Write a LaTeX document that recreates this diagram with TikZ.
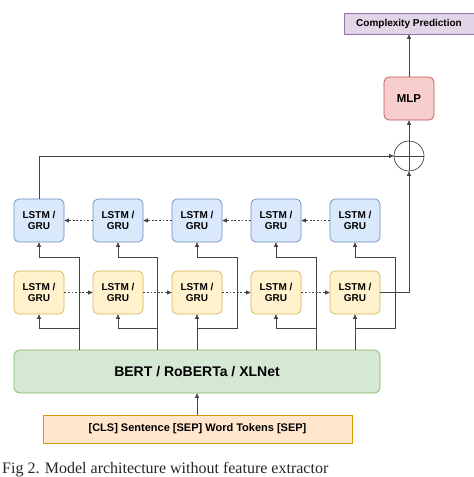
\documentclass[tikz,border=0pt]{standalone}
\usepackage{fontspec}
\setmainfont{Liberation Sans}
\newfontfamily\capfont{Liberation Serif}
\usetikzlibrary{arrows.meta}
\definecolor{bluef}{HTML}{DAE8FC}\definecolor{blued}{HTML}{6C8EBF}
\definecolor{yelf}{HTML}{FFF2CC}\definecolor{yeld}{HTML}{D6B656}
\definecolor{grnf}{HTML}{D5E8D4}\definecolor{grnd}{HTML}{82B366}
\definecolor{redf}{HTML}{F8CECC}\definecolor{redd}{HTML}{B85450}
\definecolor{purf}{HTML}{E1D5E7}\definecolor{purd}{HTML}{9673A6}
\definecolor{orf}{HTML}{FFE6CC}\definecolor{ord}{HTML}{D79B00}
\definecolor{ln}{HTML}{444444}
\begin{document}
\begin{tikzpicture}[x=1pt,y=-1pt,
  cell/.style={draw, rounded corners=5pt, minimum width=50pt, minimum height=43pt, inner sep=0pt, align=center, font=\fontsize{10}{11.5}\selectfont\bfseries, line width=0.7pt},
  bcell/.style={cell, fill=bluef, draw=blued},
  ycell/.style={cell, fill=yelf, draw=yeld},
  arr/.style={draw=ln, line width=0.7pt, -{Triangle[length=4.5pt,width=4pt]}},
  ln/.style={draw=ln, line width=0.7pt},
  darr/.style={arr, dash pattern=on 1.8pt off 1.8pt, line width=0.8pt},
]
\useasboundingbox (0,0) rectangle (474,477);
% boxes
\foreach \i/\x in {1/39,2/118,3/197,4/276,5/355}{
  \node[bcell] (b\i) at (\x,220.5) {LSTM /\\GRU};
  \node[ycell] (y\i) at (\x,292.5) {LSTM /\\GRU};
}
\node[draw=grnd, fill=grnf, rounded corners=6pt, minimum width=366pt, minimum height=43pt, inner sep=0pt, line width=0.7pt, font=\fontsize{14}{16}\selectfont\bfseries] (bert) at (197,371.5) {BERT / RoBERTa / XLNet};
\node[draw=ord, fill=orf, minimum width=309pt, minimum height=28pt, inner sep=0pt, line width=0.7pt, font=\fontsize{11}{13}\selectfont\bfseries] (tok) at (197.5,429) {[CLS] Sentence [SEP] Word Tokens [SEP]};
\node[draw=redd, fill=redf, rounded corners=5pt, minimum width=50pt, minimum height=43pt, inner sep=0pt, line width=0.7pt, font=\fontsize{11.5}{13}\selectfont\bfseries] (mlp) at (409,98.5) {MLP};
\node[draw=purd, fill=purf, minimum width=130pt, minimum height=21pt, inner sep=0pt, line width=0.7pt, font=\fontsize{10}{12}\selectfont\bfseries] (cp) at (409,23.5) {Complexity Prediction};
\node[draw=ln, circle, minimum size=30pt, inner sep=0pt, line width=0.7pt] (plus) at (409,156) {};
\draw[ln] (plus.north) -- (plus.south) (plus.west) -- (plus.east);
\node[anchor=base west, inner sep=0pt, text=black!85, font=\capfont\fontsize{16}{18}\selectfont] (cap) at (2,473) {Fig 2. Model architecture without feature extractor};
% top connectors
\draw[arr] (tok.north -| bert.north) -- (bert.south);
\draw[arr] (plus.north) -- (mlp.south);
\draw[arr] (mlp.north) -- (cp.south);
\draw[arr] (b1.north) |- (plus.west);
\draw[arr] (y5.east) -| (plus.south);
% dotted recurrent arrows
\foreach \a/\b in {5/4,4/3,3/2,2/1}{ \draw[darr] (b\a.west) -- (b\b.east); }
\foreach \a/\b in {1/2,2/3,3/4,4/5}{ \draw[darr] (y\a.east) -- (y\b.west); }
% inputs from BERT
\foreach \i/\t in {1/79,2/157,4/316}{
  \coordinate (h\i) at (\t,257);
  \coordinate (l\i) at (\t,328);
  \draw[arr] (bert.north -| h\i) -- (h\i) -| (b\i.south);
  \draw[arr] (l\i) -| (y\i.south);
}
\foreach \i/\t in {3/237,5/395}{
  \coordinate (h\i) at (\t,257);
  \coordinate (l\i) at (\t,328);
  \draw[arr] (bert.north -| y\i.south) -- (y\i.south);
  \draw[arr] (y\i.south |- l\i) -- (l\i) -- (h\i) -| (b\i.south);
}
\end{tikzpicture}
\end{document}
